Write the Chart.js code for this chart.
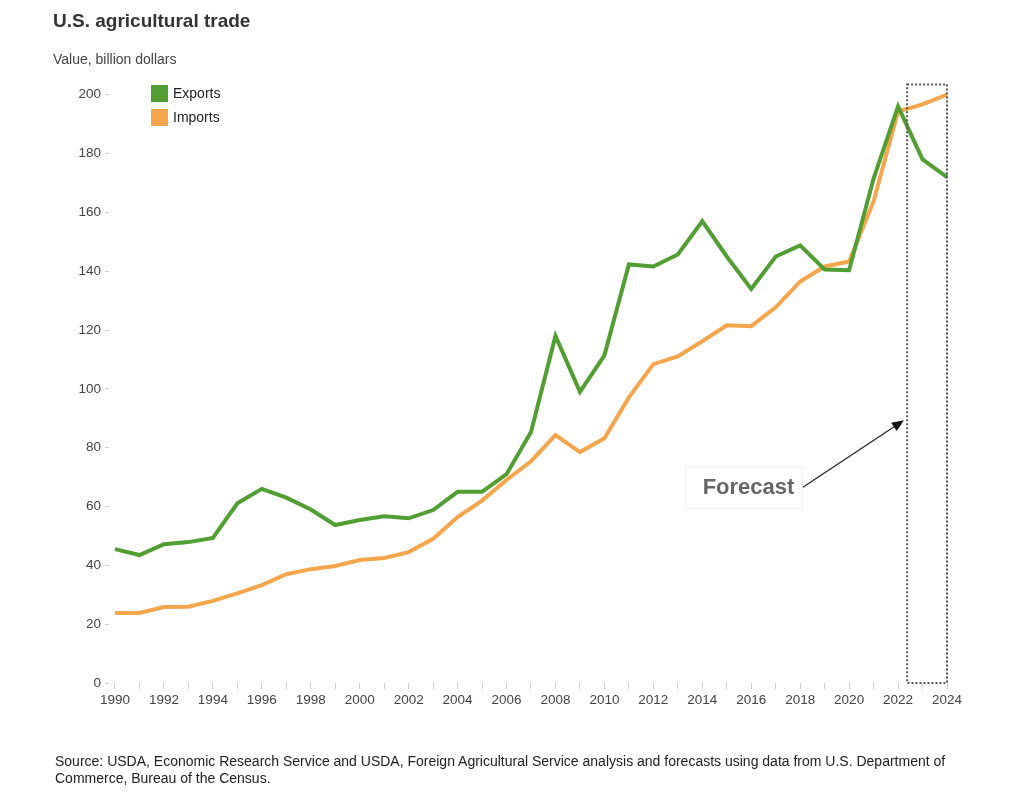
<!DOCTYPE html>
<html>
<head>
<meta charset="utf-8">
<script src="https://cdn.jsdelivr.net/npm/chart.js@4.4.1/dist/chart.umd.min.js"></script>
<style>
  html, body { margin: 0; padding: 0; background: #fff; }
  body { width: 1024px; height: 801px; position: relative; overflow: hidden; font-family: "Liberation Sans", Arial, sans-serif; }
  #wrap { position: absolute; left: 0; top: 0; width: 1024px; height: 801px; }
  .title { position: absolute; left: 53px; top: 10px; font-size: 19px; font-weight: bold; color: #333; }
  .sub { position: absolute; left: 53px; top: 51px; font-size: 14px; color: #444; }
  .src { position: absolute; left: 55px; top: 753px; width: 930px; font-size: 14px; line-height: 17px; color: #222; }
</style>
</head>
<body>
<div id="wrap"><canvas id="tradeChart" width="1024" height="801"></canvas></div>
<div class="title">U.S. agricultural trade</div>
<div class="sub">Value, billion dollars</div>
<div class="src">Source: USDA, Economic Research Service and USDA, Foreign Agricultural Service analysis and forecasts using data from U.S. Department of Commerce, Bureau of the Census.</div>
<script>
const years = [1990, 1991, 1992, 1993, 1994, 1995, 1996, 1997, 1998, 1999,
               2000, 2001, 2002, 2003, 2004, 2005, 2006, 2007, 2008, 2009,
               2010, 2011, 2012, 2013, 2014, 2015, 2016, 2017, 2018, 2019,
               2020, 2021, 2022, 2023, 2024]
const exportsVals = [45.5, 43.5, 47.2, 47.9, 49.3, 61.1, 66, 63, 59, 53.7,
                     55.4, 56.7, 56, 58.8, 65, 65, 71, 85.3, 118, 99,
                     111.4, 142.3, 141.6, 145.7, 157, 145, 134, 145, 148.8, 140.6,
                     140.3, 171.5, 196, 178, 172]
const importsVals = [23.8, 23.8, 25.8, 25.9, 27.9, 30.5, 33.3, 37, 38.7, 39.8,
                     41.8, 42.5, 44.5, 49, 56.4, 62, 69, 75.4, 84.3, 78.5,
                     83.2, 97.1, 108.4, 111, 116.2, 121.6, 121.3, 127.7, 136.5, 141.6,
                     143.3, 163.7, 194.3, 196.7, 200]
const yTicks = [0, 20, 40, 60, 80, 100, 120, 140, 160, 180, 200]

const green = '#519e33'
const orange = '#f5a54b'

// forecast box + callout, placed in data units
const forecastBox = {x0: 2022.37, x1: 2024, y0: 0, y1: 203.5}
const calloutBox = {x0: 2013.3, x1: 2018.07, y0: 59.4, y1: 73.7}
const arrowTip = {x: 2022.24, y: 89.3}

const forecastPlugin = {
  id: 'forecastPlugin',
  afterDatasetsDraw(chart) {
    const {ctx, scales: {x, y}} = chart
    ctx.save()
    // dotted forecast box
    ctx.strokeStyle = '#555'
    ctx.lineWidth = 2
    ctx.setLineDash([2, 2])
    const bx0 = x.getPixelForValue(forecastBox.x0), bx1 = x.getPixelForValue(forecastBox.x1)
    const by0 = y.getPixelForValue(forecastBox.y0), by1 = y.getPixelForValue(forecastBox.y1)
    ctx.strokeRect(bx0, by1, bx1 - bx0, by0 - by1)

    // callout label box
    const cx0 = x.getPixelForValue(calloutBox.x0), cx1 = x.getPixelForValue(calloutBox.x1)
    const cy0 = y.getPixelForValue(calloutBox.y0), cy1 = y.getPixelForValue(calloutBox.y1)
    ctx.strokeStyle = '#ddd'
    ctx.lineWidth = 1
    ctx.setLineDash([1, 1])
    ctx.strokeRect(cx0 + 0.5, cy1 + 0.5, cx1 - cx0, cy0 - cy1)
    ctx.setLineDash([])
    ctx.fillStyle = '#666'
    ctx.font = 'bold 22px "Liberation Sans", Arial, sans-serif'
    ctx.textAlign = 'center'
    ctx.textBaseline = 'middle'
    ctx.fillText('Forecast', (cx0 + cx1) / 2 + 5, (cy0 + cy1) / 2 + 1)

    // arrow
    const ax = x.getPixelForValue(arrowTip.x), ay = y.getPixelForValue(arrowTip.y)
    const sx = cx1 + 1, sy = (cy0 + cy1) / 2
    const ang = Math.atan2(ay - sy, ax - sx)
    ctx.strokeStyle = '#222'
    ctx.lineWidth = 1.2
    ctx.beginPath()
    ctx.moveTo(sx, sy)
    ctx.lineTo(ax - 10 * Math.cos(ang), ay - 10 * Math.sin(ang))
    ctx.stroke()
    ctx.fillStyle = '#111'
    ctx.beginPath()
    ctx.moveTo(ax, ay)
    ctx.lineTo(ax - 12 * Math.cos(ang) + 5 * Math.sin(ang), ay - 12 * Math.sin(ang) - 5 * Math.cos(ang))
    ctx.lineTo(ax - 12 * Math.cos(ang) - 5 * Math.sin(ang), ay - 12 * Math.sin(ang) + 5 * Math.cos(ang))
    ctx.closePath()
    ctx.fill()
    ctx.restore()
  }
}

const legendPlugin = {
  id: 'legendPlugin',
  afterDraw(chart) {
    const {ctx} = chart
    ctx.save()
    ctx.font = '14px "Liberation Sans", Arial, sans-serif'
    ctx.textBaseline = 'middle'
    ctx.textAlign = 'left'
    chart.data.datasets.forEach((ds, i) => {
      const top = 85 + i * 24
      ctx.fillStyle = ds.borderColor
      ctx.fillRect(151, top, 17, 17)
      ctx.fillStyle = '#222'
      ctx.fillText(ds.label, 173, top + 9)
    })
    ctx.restore()
  }
}

const tickFont = {family: '"Liberation Sans", Arial, sans-serif', size: 13.5}

const config = {
  type: 'line',
  data: {
    datasets: [
      {label: 'Exports', data: years.map((yr, i) => ({x: yr, y: exportsVals[i]})),
       borderColor: green, backgroundColor: green, borderWidth: 4, pointRadius: 0, tension: 0, clip: false},
      {label: 'Imports', data: years.map((yr, i) => ({x: yr, y: importsVals[i]})),
       borderColor: orange, backgroundColor: orange, borderWidth: 4, pointRadius: 0, tension: 0, clip: false}
    ]
  },
  options: {
    responsive: false,
    animation: false,
    layout: {padding: {left: 60, right: 77, top: 80, bottom: 88}},
    plugins: {legend: {display: false}, tooltip: {enabled: false}},
    scales: {
      x: {
        type: 'linear',
        min: 1989.755,
        max: 2024,
        afterBuildTicks(scale) {
          scale.ticks = years.map(v => ({value: v}))
        },
        afterFit(scale) { scale.height = 30 },
        ticks: {
          autoSkip: false,
          maxRotation: 0,
          color: '#444',
          font: tickFont,
          padding: 3,
          callback: v => (v % 2 === 0 ? String(v) : '')
        },
        grid: {drawOnChartArea: false, drawTicks: true, tickLength: 6, color: '#ccc', tickWidth: 1},
        border: {display: false}
      },
      y: {
        min: 0,
        max: 205,
        afterBuildTicks(scale) {
          scale.ticks = yTicks.map(v => ({value: v}))
        },
        afterFit(scale) { scale.width = 49 },
        ticks: {color: '#444', font: tickFont, padding: 4},
        grid: {drawOnChartArea: false, drawTicks: true, tickLength: 4, color: '#ccc'},
        border: {display: false}
      }
    }
  },
  plugins: [forecastPlugin, legendPlugin]
}

const tradeChart = new Chart(document.getElementById('tradeChart'), config)
</script>
</body>
</html>
